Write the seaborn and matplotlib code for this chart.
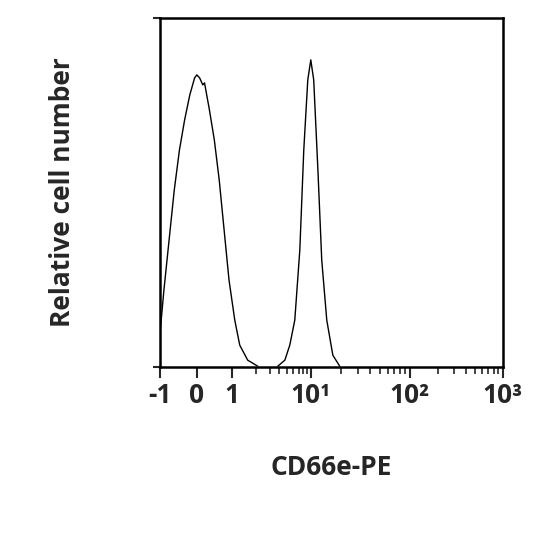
import numpy as np
import matplotlib
matplotlib.use("Agg")
import matplotlib.pyplot as plt
import seaborn as sns
import pandas as pd

# unstained / negative population
neg_x = [-1.0, -0.89, -0.75, -0.61, -0.47, -0.33, -0.19, -0.06, 0.0, 0.08, 0.17, 0.22,
         0.36, 0.5, 0.64, 0.78, 0.92, 1.09, 1.26, 1.59, 2.13]
neg_y = [32, 77, 127, 177, 217, 247, 272, 289, 292, 289, 282, 284,
         257, 227, 187, 137, 87, 47, 22, 7, 1]
# CD66e-PE stained population
pos_x = [3.82, 4.69, 5.42, 6.27, 7.26, 8.15, 9.16, 10.0, 10.7, 11.8, 12.9, 14.5, 16.7, 19.6]
pos_y = [1, 7, 22, 47, 117, 217, 287, 307, 287, 197, 107, 47, 12, 1]

tick_vals = [-1, 0, 1, 10, 100, 1000]
tick_labels = ["-1", "0", "1", "10¹", "10²", "10³"]

# display axis: linear near zero, log above 1
T_PTS = [-1, 0, 1, 2, 3, 4]
P_PTS = [0, 37, 72, 151, 250, 343]


def fwd(x):
    x = np.asarray(x, dtype=float)
    t = np.where(x > 1, 1 + np.log10(np.clip(x, 1, None)), x)
    return np.interp(t, T_PTS, P_PTS)


def inv(p):
    p = np.asarray(p, dtype=float)
    t = np.interp(p, P_PTS, T_PTS)
    return np.where(t > 1, 10 ** (t - 1), t)


sns.set_style("white")
plt.rcParams["font.family"] = ["Open Sans", "DejaVu Sans"]

fig = plt.figure(figsize=(5.4, 5.4), dpi=100)
ax = fig.add_axes([0.296, 0.320, 0.635, 0.647])
ax.set_xscale("function", functions=(fwd, inv))

df_neg = pd.DataFrame({"x": neg_x, "y": neg_y})
df_pos = pd.DataFrame({"x": pos_x, "y": pos_y})
sns.lineplot(data=df_neg, x="x", y="y", color="black", lw=1.0, ax=ax)
sns.lineplot(data=df_pos, x="x", y="y", color="black", lw=1.0, ax=ax)

ax.set_xlim(-1, 1000)
ax.set_ylim(0, 349)
ax.set_xticks(tick_vals)
ax.set_xticklabels(tick_labels, fontsize=19, fontweight="bold")
minor = [m * d for d in (1, 10, 100) for m in range(2, 10)]
ax.set_xticks(minor, minor=True)
ax.set_yticks([0, 349])
ax.set_yticklabels([])
ax.tick_params(axis="x", which="major", direction="out", length=8, width=1.5, bottom=True, pad=3)
ax.tick_params(axis="x", which="minor", direction="out", length=5, width=1.2, bottom=True)
ax.tick_params(axis="y", direction="out", length=5, width=1.5, left=True)
for s in ax.spines.values():
    s.set_linewidth(1.8)
    s.set_color("black")

ax.set_xlabel("CD66e-PE", fontsize=19, fontweight="bold", labelpad=32)
ax.set_ylabel("Relative cell number", fontsize=19, fontweight="bold", labelpad=52)

fig.savefig("out.png", dpi=100)
